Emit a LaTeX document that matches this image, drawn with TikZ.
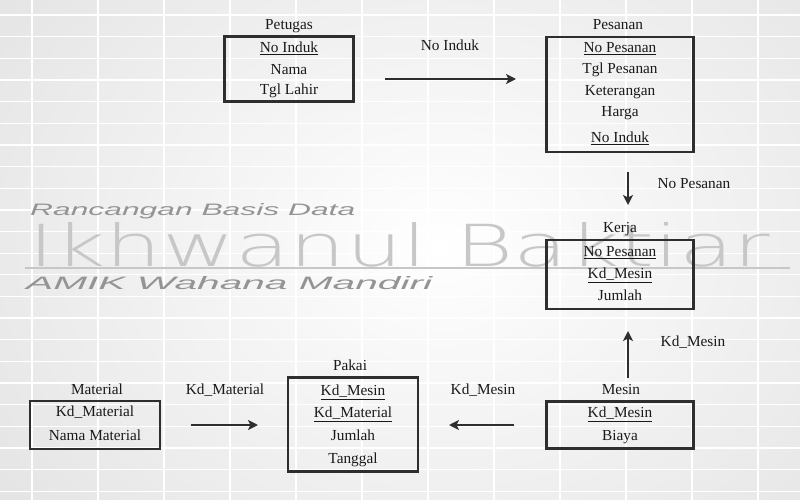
\documentclass[tikz,border=0pt]{standalone}
\usepackage{fontspec}
\usepackage{graphicx}
\setmainfont{Liberation Serif}
\newfontfamily\wmfont{Liberation Sans}
\newfontfamily\wmthin{DejaVu Sans}[UprightFont=* ExtraLight]
\usetikzlibrary{arrows.meta}
\begin{document}
\begin{tikzpicture}[x=1pt,y=-1pt,
  font=\fontsize{15.3}{18}\selectfont,
  txt/.style={text=black!90, inner sep=0, text height=10.5pt, text depth=3pt},
  tbl/.style={draw=black!82, line width=2.2pt, inner sep=0},
  arr/.style={draw=black!82, line width=2.2pt, -{Stealth[length=10pt,width=10pt,inset=2.5pt]}},
  gridln/.style={white, line width=1.3pt}]
\useasboundingbox (0,0) rectangle (800,500);
% background
\begin{scope}
\clip (0,0) rectangle (800,500);
\shade[inner color=white, outer color=black!19] (-560,-515) rectangle (1440,1005);
\foreach \i in {0,...,11} \draw[gridln] ({32+66*\i},0) -- ++(0,500);
\foreach \j in {0,...,22} \draw[gridln] (0,{15+21.65*\j}) -- ++(800,0);
\end{scope}
% watermark
\node[anchor=base west, inner sep=0, text=black!22] (wmname) at (28,266) {\wmthin\resizebox{742pt}{44pt}{Ikhwanul Baktiar}};
\coordinate (wl1) at (25,268); \coordinate (wl2) at (790,268);
\draw[black!22, line width=1.5pt] (wl1) -- (wl2);
\node[anchor=base west, inner sep=0, text=black!42] (wmtitle) at (30,215) {\wmfont\itshape\resizebox{325pt}{12pt}{Rancangan Basis Data}};
\node[anchor=base west, inner sep=0, text=black!42] (wmsub) at (26,289) {\wmfont\itshape\resizebox{406pt}{13pt}{AMIK Wahana Mandiri}};

% Petugas
\node[tbl, minimum width=129pt, minimum height=65pt] (petugas) at (289,69) {};
\node[txt] (petugasT) at (289,26) {Petugas};
\node[txt] (petugas1) at (289,49) {\underline{No Induk}};
\node[txt] (petugas2) at (289,71) {Nama};
\node[txt] (petugas3) at (289,91) {Tgl Lahir};

% Pesanan
\node[tbl, minimum width=147pt, minimum height=115pt] (pesanan) at (620,94.5) {};
\node[txt] (pesananT) at (618,26) {Pesanan};
\node[txt] (pesanan1) at (620,49) {\underline{No Pesanan}};
\node[txt] (pesanan2) at (620,70) {Tgl Pesanan};
\node[txt] (pesanan3) at (620,92) {Keterangan};
\node[txt] (pesanan4) at (620,113) {Harga};
\node[txt] (pesanan5) at (620,139) {\underline{No Induk}};

% Kerja
\node[tbl, minimum width=147pt, minimum height=69pt] (kerja) at (620,274.5) {};
\node[txt] (kerjaT) at (620,229) {Kerja};
\node[txt] (kerja1) at (620,253) {\underline{No Pesanan}};
\node[txt] (kerja2) at (620,275) {\underline{Kd\_Mesin}};
\node[txt] (kerja3) at (620,297) {Jumlah};

% Mesin
\node[tbl, minimum width=147pt, minimum height=47pt] (mesin) at (620,425) {};
\node[txt] (mesinT) at (621,391) {Mesin};
\node[txt] (mesin1) at (620,414) {\underline{Kd\_Mesin}};
\node[txt] (mesin2) at (620,437) {Biaya};

% Pakai
\node[tbl, minimum width=130pt, minimum height=94pt] (pakai) at (353,424.5) {};
\node[txt] (pakaiT) at (350,367) {Pakai};
\node[txt] (pakai1) at (353,392) {\underline{Kd\_Mesin}};
\node[txt] (pakai2) at (353,414) {\underline{Kd\_Material}};
\node[txt] (pakai3) at (353,437) {Jumlah};
\node[txt] (pakai4) at (353,460) {Tanggal};

% Material
\node[tbl, minimum width=130pt, minimum height=48pt] (material) at (95,425) {};
\node[txt] (materialT) at (97,391) {Material};
\node[txt] (material1) at (95,413) {Kd\_Material};
\node[txt] (material2) at (95,437) {Nama Material};

% connectors
\coordinate (a1s) at (385,79); \coordinate (a1e) at (516,79);
\draw[arr] (a1s) -- (a1e);
\node[txt] (l1) at (450,47) {No Induk};

\coordinate (a2s) at (628,172); \coordinate (a2e) at (628,205);
\draw[arr] (a2s) -- (a2e);
\node[txt] (l2) at (694,185) {No Pesanan};

\coordinate (a3s) at (628,378); \coordinate (a3e) at (628,331);
\draw[arr] (a3s) -- (a3e);
\node[txt] (l3) at (693,343) {Kd\_Mesin};

\coordinate (a4s) at (514,425); \coordinate (a4e) at (449,425);
\draw[arr] (a4s) -- (a4e);
\node[txt] (l4) at (483,391) {Kd\_Mesin};

\coordinate (a5s) at (191,425); \coordinate (a5e) at (258,425);
\draw[arr] (a5s) -- (a5e);
\node[txt] (l5) at (225,391) {Kd\_Material};
\end{tikzpicture}
\end{document}
